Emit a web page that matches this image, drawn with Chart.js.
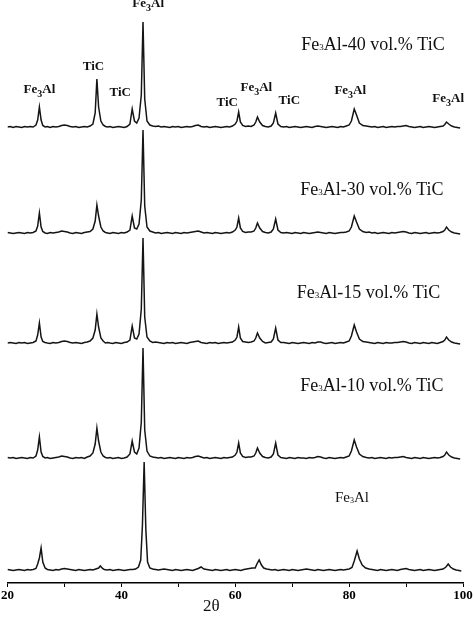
<!DOCTYPE html>
<html lang="en">
<head>
<meta charset="UTF-8">
<title>XRD patterns Fe3Al - TiC</title>
<script src="https://cdn.jsdelivr.net/npm/chart.js"></script>
<style>
  body { margin: 0; background: #fff; overflow: hidden; }
  #wrap { width: 474px; height: 620px; position: relative; }
</style>
</head>
<body>
<div id="wrap"><canvas id="chart"></canvas></div>
<script>
  // 2-theta grid for the composite patterns (Fe3Al + TiC)
  const twoThetaTiC = [
    20, 20.5, 21, 21.5, 22, 22.5, 23, 23.5, 24, 24.5,
    25.0, 25.3, 25.6, 25.9, 26.2,
    26.6, 27, 27.5, 28, 28.5, 29, 29.5, 30, 30.5, 31, 31.5, 32, 32.5, 33, 33.5, 34, 34.5,
    35.0, 35.4, 35.7, 36.0, 36.4, 36.8,
    37.2, 37.6, 38, 38.5, 39, 39.5, 40, 40.5, 41,
    41.5, 41.9, 42.3, 42.7, 43.1, 43.5, 43.8, 44.1, 44.5, 45.0,
    45.5, 46, 46.5, 47, 47.5, 48, 48.5, 49, 49.5, 50, 50.5, 51, 51.5, 52, 52.5, 53, 53.5, 54, 54.5, 55, 55.5, 56, 56.5, 57, 57.5, 58, 58.5, 59, 59.5,
    60.0, 60.3, 60.6, 60.9, 61.3,
    61.8, 62.3, 62.8, 63.3,
    63.6, 63.9, 64.3, 64.8,
    65.3, 65.8, 66.3,
    66.7, 67.1, 67.5, 68.0,
    68.5, 69, 69.5, 70, 70.5, 71, 71.5, 72, 72.5, 73, 73.5, 74, 74.5, 75, 75.5, 76, 76.5, 77, 77.5, 78, 78.5, 79, 79.5,
    80.0, 80.4, 80.9, 81.3, 81.8, 82.4,
    83, 83.5, 84, 84.5, 85, 85.5, 86, 86.5, 87, 87.5, 88, 88.5, 89, 89.5, 90, 90.5, 91, 91.5, 92, 92.5, 93, 93.5, 94, 94.5, 95, 95.5, 96, 96.5,
    96.8, 97.1, 97.5, 98.0,
    98.5, 99, 99.5
  ];

  // 2-theta grid for the monolithic Fe3Al pattern
  const twoThetaFe3Al = [
    20, 20.5, 21, 21.5, 22, 22.5, 23, 23.5, 24, 24.5, 25,
    25.3, 25.6, 25.9, 26.2, 26.6,
    27, 27.5, 28, 28.5, 29, 29.5, 30, 30.5, 31, 31.5, 32, 32.5, 33, 33.5, 34, 34.5, 35, 35.5,
    36.0, 36.3, 36.7,
    37, 37.5, 38, 38.5, 39, 39.5, 40, 40.5, 41, 41.5, 42, 42.5,
    43.0, 43.4, 43.7, 44.0, 44.3, 44.6, 45.0,
    45.5, 46, 46.5, 47, 47.5, 48, 48.5, 49, 49.5, 50, 50.5, 51, 51.5, 52, 52.5, 53, 53.5, 54, 54.5, 55, 55.5, 56, 56.5, 57, 57.5, 58, 58.5, 59, 59.5, 60, 60.5, 61, 61.5, 62, 62.5, 63, 63.5,
    63.8, 64.2, 64.6, 65.0,
    65.5, 66, 66.5, 67, 67.5, 68, 68.5, 69, 69.5, 70, 70.5, 71, 71.5, 72, 72.5, 73, 73.5, 74, 74.5, 75, 75.5, 76, 76.5, 77, 77.5, 78, 78.5, 79, 79.5, 80, 80.5,
    80.9, 81.4, 81.8, 82.3, 82.9,
    83.5, 84, 84.5, 85, 85.5, 86, 86.5, 87, 87.5, 88, 88.5, 89, 89.5, 90, 90.5, 91, 91.5, 92, 92.5, 93, 93.5, 94, 94.5, 95, 95.5, 96, 96.5,
    97.0, 97.4, 97.8, 98.3,
    98.8, 99.3, 99.7
  ];

  // relative intensities
  const tic40 = [
    0, 0.5, -0.5, 0.5, 0, -0.5, 0.5, 0, 0.5, 0,
    2, 7, 20, 7, 1.5,
    0, 0.5, -0.5, 0.5, 0, 0.5, 1.5, 2, 1.5, 0.5, 0, 0.5, -0.5, 0, 0.5, 0, 1,
    3, 14, 48, 20, 6, 2,
    0.5, 0, 0.5, -0.5, 0, 0.5, 0, -0.5, 0.5,
    3, 18, 6, 4, 9, 32, 105, 28, 6, 2,
    1, 0.5, 1, 0, 0.5, 0, -0.5, 0.5, 0, 0.5, -0.5, 0, 0.5, 0, 0.5, 1.5, 2, 0.5, 0, 0.5, -0.5, 0, 0.5, 0, -0.5, 0, 0.5, 0, 1,
    3, 6, 15, 5, 1.5,
    0.5, 1, 0.5, 2,
    5, 10, 5, 1.5,
    0.5, 0, 1,
    4, 14, 3, 0.5,
    0, 0.5, -0.5, 0, 0.5, 0, -0.5, 0, 0.5, 0, -0.5, 0.5, 1, 0.5, 0, -0.5, 0, 0.5, 0, -0.5, 0.5, 0, 1,
    2, 6, 18, 12, 4, 1.5,
    1, 0.5, 0, 0.5, -0.5, 0, 0.5, -0.5, 0, 0.5, 0, 0.5, 0.5, 1, 1.5, 0.5, 0, -0.5, 0, 0.5, -0.5, 0, 0.5, 0, -0.5, 0, 0.5, 1,
    2.5, 5, 3, 1,
    0, -0.5, -1
  ];

  const tic30 = [
    0.5, 0, -0.5, 0, 0.5, 0, -0.5, 0.5, 0, 0.5,
    2, 7, 20, 6, 1.5,
    0, -0.5, 0.5, 0, 0.5, 1, 2, 1.5, 1, 0, -0.5, 0.5, 0, -0.5, 0.5, 1, 1.5,
    4, 12, 28, 17, 6, 2,
    0.5, 0, -0.5, 0.5, 0, -0.5, 0.5, 0, 1,
    3, 17, 5, 4, 9, 33, 103, 27, 6, 2,
    1, 0, 0.5, -0.5, 0, 0.5, 0, -0.5, 0.5, 0, -0.5, 0.5, 0, 0.5, 1, 1.5, 2, 1, 0, 0.5, 0, -0.5, 0.5, 0, -0.5, 0, 0.5, 0, 1,
    3, 6, 15, 5, 1.5,
    0.5, 1, 1, 2,
    5, 10, 5, 1.5,
    0.5, 0, 1,
    4, 14, 3, 0.5,
    0, 0.5, 0, -0.5, 0.5, 0, -0.5, 0.5, 0, -0.5, 0, 0.5, 1, 0.5, 0, -0.5, 0.5, 0, -0.5, 0, 0.5, 0.5, 1,
    2, 6, 17, 11, 4, 1.5,
    0.5, 1, 0, 0.5, -0.5, 0, 0.5, 0, -0.5, 0.5, 0, 0.5, 1, 1.5, 1, 0, -0.5, 0.5, 0, -0.5, 0, 0.5, -0.5, 0, 0.5, 0, 0.5, 1.5,
    3, 6, 3, 1,
    0, -0.5, -1
  ];

  const tic15 = [
    0, 0.5, 0, -0.5, 0.5, 0, 0.5, -0.5, 0, 0.5,
    2, 8, 20, 6, 1.5,
    0.5, 0, -0.5, 0.5, 0, 0.5, 1.5, 2, 1.5, 0.5, 0, 0.5, 0, -0.5, 0.5, 1, 2,
    5, 13, 29, 16, 5, 2,
    0, 0.5, 0, -0.5, 0.5, 0, -0.5, 0.5, 1,
    3, 17, 5, 4, 9, 34, 105, 26, 6, 2,
    0.5, 1, 0.5, 0, -0.5, 0.5, 0, 0.5, -0.5, 0, 0.5, 0, -0.5, 0.5, 1, 1.5, 2, 0.5, 0, -0.5, 0.5, 0, 0.5, -0.5, 0, 0.5, 0, 0.5, 1,
    3, 6, 16, 5, 1.5,
    1, 0.5, 1, 2,
    5, 10, 5, 1.5,
    0, 0.5, 1,
    4, 15, 3, 0.5,
    0.5, 0, -0.5, 0.5, 0, -0.5, 0, 0.5, 0, -0.5, 0.5, 0, 1, 1, 0, -0.5, 0, 0.5, -0.5, 0, 0.5, 0, 1,
    2, 7, 18, 11, 4, 1.5,
    1, 0.5, 0, -0.5, 0.5, 0, -0.5, 0.5, 0, 0, 0.5, 0.5, 1, 1.5, 1, 0, -0.5, 0.5, 0, -0.5, 0.5, 0, -0.5, 0.5, 0, -0.5, 0.5, 1.5,
    3, 6, 3, 1,
    0, -0.5, -1
  ];

  const tic10 = [
    0.5, 0, 0.5, -0.5, 0, 0.5, 0, -0.5, 0.5, 0,
    2, 8, 21, 6, 1.5,
    0, 0.5, -0.5, 0, 0.5, 1, 2, 1.5, 1, 0, -0.5, 0.5, 0, 0.5, -0.5, 1, 2,
    5, 14, 30, 17, 6, 2,
    0.5, 0, 0.5, -0.5, 0, 0.5, -0.5, 0, 1,
    4, 17, 6, 4, 10, 36, 110, 28, 7, 2,
    1, 0.5, 0, 0.5, -0.5, 0, 0.5, 0, -0.5, 0.5, 0, -0.5, 0.5, 0, 0.5, 1.5, 2, 1, 0, 0.5, -0.5, 0, 0.5, 0, -0.5, 0.5, 0, 0.5, 1,
    3, 6, 15, 5, 1.5,
    0.5, 1, 1, 2,
    5, 10, 5, 1.5,
    0.5, 0, 1,
    4, 15, 3, 0.5,
    0, -0.5, 0.5, 0, -0.5, 0.5, 0, 0, -0.5, 0.5, 0, 0.5, 1.5, 1, 0, -0.5, 0.5, 0, -0.5, 0, 0.5, 0, 1,
    2, 7, 18, 11, 4, 1.5,
    0.5, 0, 0.5, -0.5, 0, 0.5, 0, -0.5, 0.5, 0, 0.5, 0.5, 1, 1.5, 0.5, 0, -0.5, 0.5, 0, -0.5, 0.5, 0, -0.5, 0, 0.5, 0, 0.5, 1.5,
    3, 6, 3, 1,
    0, -0.5, -1
  ];

  const fe3al = [
    0.5, 0, -0.5, 0, 0.5, 0, -0.5, 0.5, 0, 0.5, 1.5,
    6, 12, 22, 8, 2,
    0.5, 0, -0.5, 0.5, 0, 1, 1.5, 1, 0.5, 0, -0.5, 0.5, 0, -0.5, 0, 0.5, 0, 1,
    2, 4, 1.5,
    0.5, 0, 0.5, -0.5, 0, 0.5, 0, -0.5, 0, 0.5, 0.5, 1,
    3, 10, 45, 108, 40, 8, 2,
    1, 0.5, 0, 0.5, 1, 0.5, 0, -0.5, 0.5, 0, -0.5, 0, 0.5, 0, -0.5, 0.5, 1.5, 3, 1, 0.5, 0, -0.5, 0.5, 0, -0.5, 0, 0.5, -0.5, 0, 0.5, 0, -0.5, 0.5, 1, 1.5, 2, 2,
    6, 10, 5, 2,
    1, 0.5, 0, 0.5, -0.5, 0, 0.5, 0, -0.5, 0.5, 0, -0.5, 0, 0.5, 1, 0.5, 0, -0.5, 0.5, 0, -0.5, 0, 0.5, 0, -0.5, 0, 0.5, 0, 0.5, 1, 2.5,
    9, 19, 11, 5, 2,
    1, 0.5, 0, -0.5, 0.5, 0, -0.5, 0, 0.5, 0, -0.5, 0.5, 1, 1.5, 0.5, 0, -0.5, 0, 0.5, -0.5, 0, 0.5, 0, -0.5, 0, 0.5, 1,
    3, 6, 3, 1,
    0, -0.5, -1
  ];

  const sampleNames = ['Fe3Al-40 vol.% TiC', 'Fe3Al-30 vol.% TiC', 'Fe3Al-15 vol.% TiC', 'Fe3Al-10 vol.% TiC', 'Fe3Al'];

  // phase labels over the top pattern
  const peakLabels = ['Fe3Al', 'TiC', 'TiC', 'Fe3Al', 'TiC', 'Fe3Al', 'TiC', 'Fe3Al', 'Fe3Al'];

  // layout: vertical shift of each pattern and where the texts sit
  const traceOffsets = [456, 350, 240, 125, 13];
  const traceGrids = [twoThetaTiC, twoThetaTiC, twoThetaTiC, twoThetaTiC, twoThetaFe3Al];
  const traceValues = [tic40, tic30, tic15, tic10, fe3al];
  const peakLabelPos = [[25.6, 493], [35.1, 516], [39.8, 490], [44.7, 579], [58.6, 480], [63.7, 495], [69.5, 482], [80.2, 492], [97.4, 484]];
  const sampleLabelPos = [[84.2, 538], [84.0, 393], [83.4, 290], [84.0, 197], [80.5, 85]];

  const SERIF = '"Liberation Serif", "Times New Roman", serif';

  // writes "Fe3Al..." with the 3 as a subscript, centred on cx
  function drawText(ctx, text, cx, cy, size, weight, subSize, subDrop) {
    const main = weight + ' ' + size + 'px ' + SERIF;
    const sub = weight + ' ' + subSize + 'px ' + SERIF;
    let parts = [[text, main, 0]];
    if (text.startsWith('Fe3')) {
      parts = [['Fe', main, 0], ['3', sub, subDrop], [text.slice(3), main, 0]];
    }
    let w = 0;
    parts.forEach(p => { ctx.font = p[1]; w += ctx.measureText(p[0]).width; });
    let x = cx - w / 2;
    parts.forEach(p => {
      ctx.font = p[1];
      ctx.fillText(p[0], x, cy + p[2]);
      x += ctx.measureText(p[0]).width;
    });
  }

  const labelPlugin = {
    id: 'xrdLabels',
    afterDraw(chart) {
      const { ctx, chartArea } = chart;
      const xs = chart.scales.x, ys = chart.scales.y;
      ctx.save();
      ctx.fillStyle = '#111';
      ctx.textAlign = 'left';
      ctx.textBaseline = 'middle';

      peakLabels.forEach((t, i) => {
        const p = peakLabelPos[i];
        drawText(ctx, t, xs.getPixelForValue(p[0]), ys.getPixelForValue(p[1]), 13, 'bold', 10, 4);
      });

      sampleNames.forEach((t, i) => {
        const p = sampleLabelPos[i];
        const last = i === sampleNames.length - 1;
        drawText(ctx, t, xs.getPixelForValue(p[0]), ys.getPixelForValue(p[1]),
          last ? 15 : 18, 'normal', last ? 8 : 9, 3);
      });

      ctx.font = '17px ' + SERIF;
      ctx.textAlign = 'center';
      ctx.fillText('2θ', xs.getPixelForValue(55.8), chartArea.bottom + 24);
      ctx.restore();
    }
  };

  const datasets = traceValues.map((vals, i) => ({
    label: sampleNames[i],
    data: vals.map((v, k) => ({ x: traceGrids[i][k], y: v + traceOffsets[i] })),
    borderColor: '#151515',
    borderWidth: 1.5,
    pointRadius: 0,
    tension: 0,
    fill: false
  }));

  new Chart(document.getElementById('chart'), {
    type: 'line',
    data: { datasets: datasets },
    options: {
      responsive: true,
      maintainAspectRatio: false,
      animation: false,
      layout: { padding: { left: 7, right: 11, top: 0, bottom: 0 } },
      plugins: {
        legend: { display: false },
        tooltip: { enabled: false }
      },
      scales: {
        x: {
          type: 'linear',
          min: 20,
          max: 100,
          ticks: {
            stepSize: 10,
            autoSkip: false,
            maxRotation: 0,
            padding: 1,
            color: '#000',
            font: { family: SERIF, size: 13, weight: 'bold' },
            callback: v => (v % 20 === 0 ? v : '')
          },
          grid: { drawOnChartArea: false, color: '#000', tickLength: 4, lineWidth: 1 },
          border: { color: '#000', width: 1.5 },
          afterFit: s => { s.height = 37; }
        },
        y: { display: false, min: 0, max: 583 }
      }
    },
    plugins: [labelPlugin]
  });
</script>
</body>
</html>
